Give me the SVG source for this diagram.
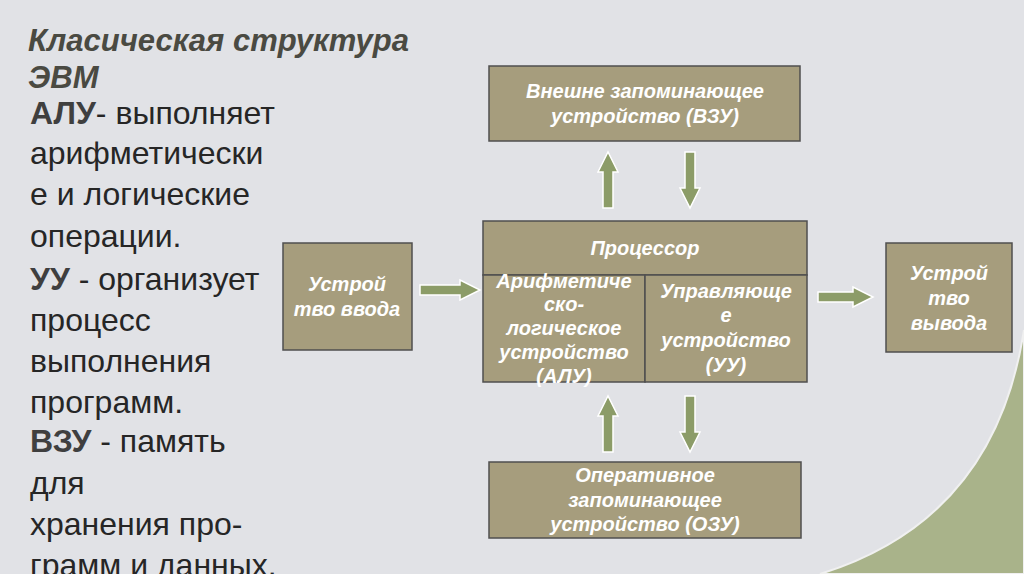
<svg xmlns="http://www.w3.org/2000/svg" width="1024" height="574" viewBox="0 0 1024 574">
<style>
.box{fill:#a69d7d;stroke:#4f4f4f;stroke-width:1.5}
.bt{font-family:"Liberation Sans",Arial,sans-serif;font-size:20px;font-weight:bold;font-style:italic;fill:#fff;text-anchor:middle}
.lt{font-family:"Liberation Sans",Arial,sans-serif;font-size:32px;fill:#262626}
.ar{fill:#8c9c68;stroke:#fff;stroke-width:1.5}
</style>
<rect width="1024" height="574" fill="#e1e2e6"/>
<path d="M1024 330 Q995 520 820 574 L1024 574 Z" fill="#a9b38a" stroke="#f0f0f0" stroke-width="2"/>
<text font-family="Liberation Sans,Arial,sans-serif" font-size="31" font-weight="bold" font-style="italic" fill="#4a4a42"><tspan x="28" y="51">Класическая структура</tspan><tspan x="28" y="88">ЭВМ</tspan></text>
<text class="lt"><tspan x="30" y="124"><tspan font-weight="bold" fill="#3f3f3f">АЛУ</tspan>- выполняет</tspan><tspan x="30" y="164">арифметически</tspan><tspan x="30" y="205">е и логические</tspan><tspan x="30" y="247">операции.</tspan><tspan x="30" y="290"><tspan font-weight="bold" fill="#3f3f3f">УУ</tspan> - организует</tspan><tspan x="30" y="331">процесс</tspan><tspan x="30" y="372">выполнения</tspan><tspan x="30" y="413">программ.</tspan><tspan x="30" y="452"><tspan font-weight="bold" fill="#3f3f3f">ВЗУ</tspan> - память</tspan><tspan x="30" y="494">для</tspan><tspan x="30" y="535">хранения про-</tspan><tspan x="30" y="576">грамм и данных.</tspan></text>
<g id="arrows">
<path class="ar" d="M603 208 V172 H598 L608 152 L618 172 H613 V208 Z"/>
<path class="ar" d="M685 152 V188 H680 L690 208 L700 188 H695 V152 Z"/>
<path class="ar" d="M603 452 V416 H598 L608 396 L618 416 H613 V452 Z"/>
<path class="ar" d="M685 396 V432 H680 L690 452 L700 432 H695 V396 Z"/>
<path class="ar" d="M420 285 H460 V280 L480 290 L460 300 V295 H420 Z"/>
<path class="ar" d="M818 292 H853 V287 L873 297 L853 307 V302 H818 Z"/>
</g>
<g id="vzu"><rect class="box" x="489" y="66" width="311" height="75"/><text class="bt"><tspan x="645" y="98">Внешне запоминающее</tspan><tspan x="645" y="123">устройство (ВЗУ)</tspan></text></g>
<g id="proc"><rect class="box" x="483" y="221" width="324" height="54"/><text class="bt" x="645" y="255">Процессор</text></g>
<g id="alu"><rect class="box" x="483" y="275" width="162" height="107"/><text class="bt"><tspan x="564" y="288">Арифметиче</tspan><tspan x="564" y="311">ско-</tspan><tspan x="564" y="335">логическое</tspan><tspan x="564" y="359">устройство</tspan><tspan x="564" y="383">(АЛУ)</tspan></text></g>
<g id="uu"><rect class="box" x="645" y="275" width="162" height="107"/><text class="bt"><tspan x="726" y="298">Управляюще</tspan><tspan x="726" y="322">е</tspan><tspan x="726" y="347">устройство</tspan><tspan x="726" y="372">(УУ)</tspan></text></g>
<g id="input"><rect class="box" x="283" y="243" width="129" height="107"/><text class="bt"><tspan x="347" y="291">Устрой</tspan><tspan x="347" y="316">тво ввода</tspan></text></g>
<g id="output"><rect class="box" x="886" y="243" width="126" height="109"/><text class="bt"><tspan x="949" y="280">Устрой</tspan><tspan x="949" y="305">тво</tspan><tspan x="949" y="330">вывода</tspan></text></g>
<g id="ozu"><rect class="box" x="489" y="462" width="312" height="76"/><text class="bt"><tspan x="645" y="482">Оперативное</tspan><tspan x="645" y="507">запоминающее</tspan><tspan x="645" y="531">устройство (ОЗУ)</tspan></text></g>
</svg>
